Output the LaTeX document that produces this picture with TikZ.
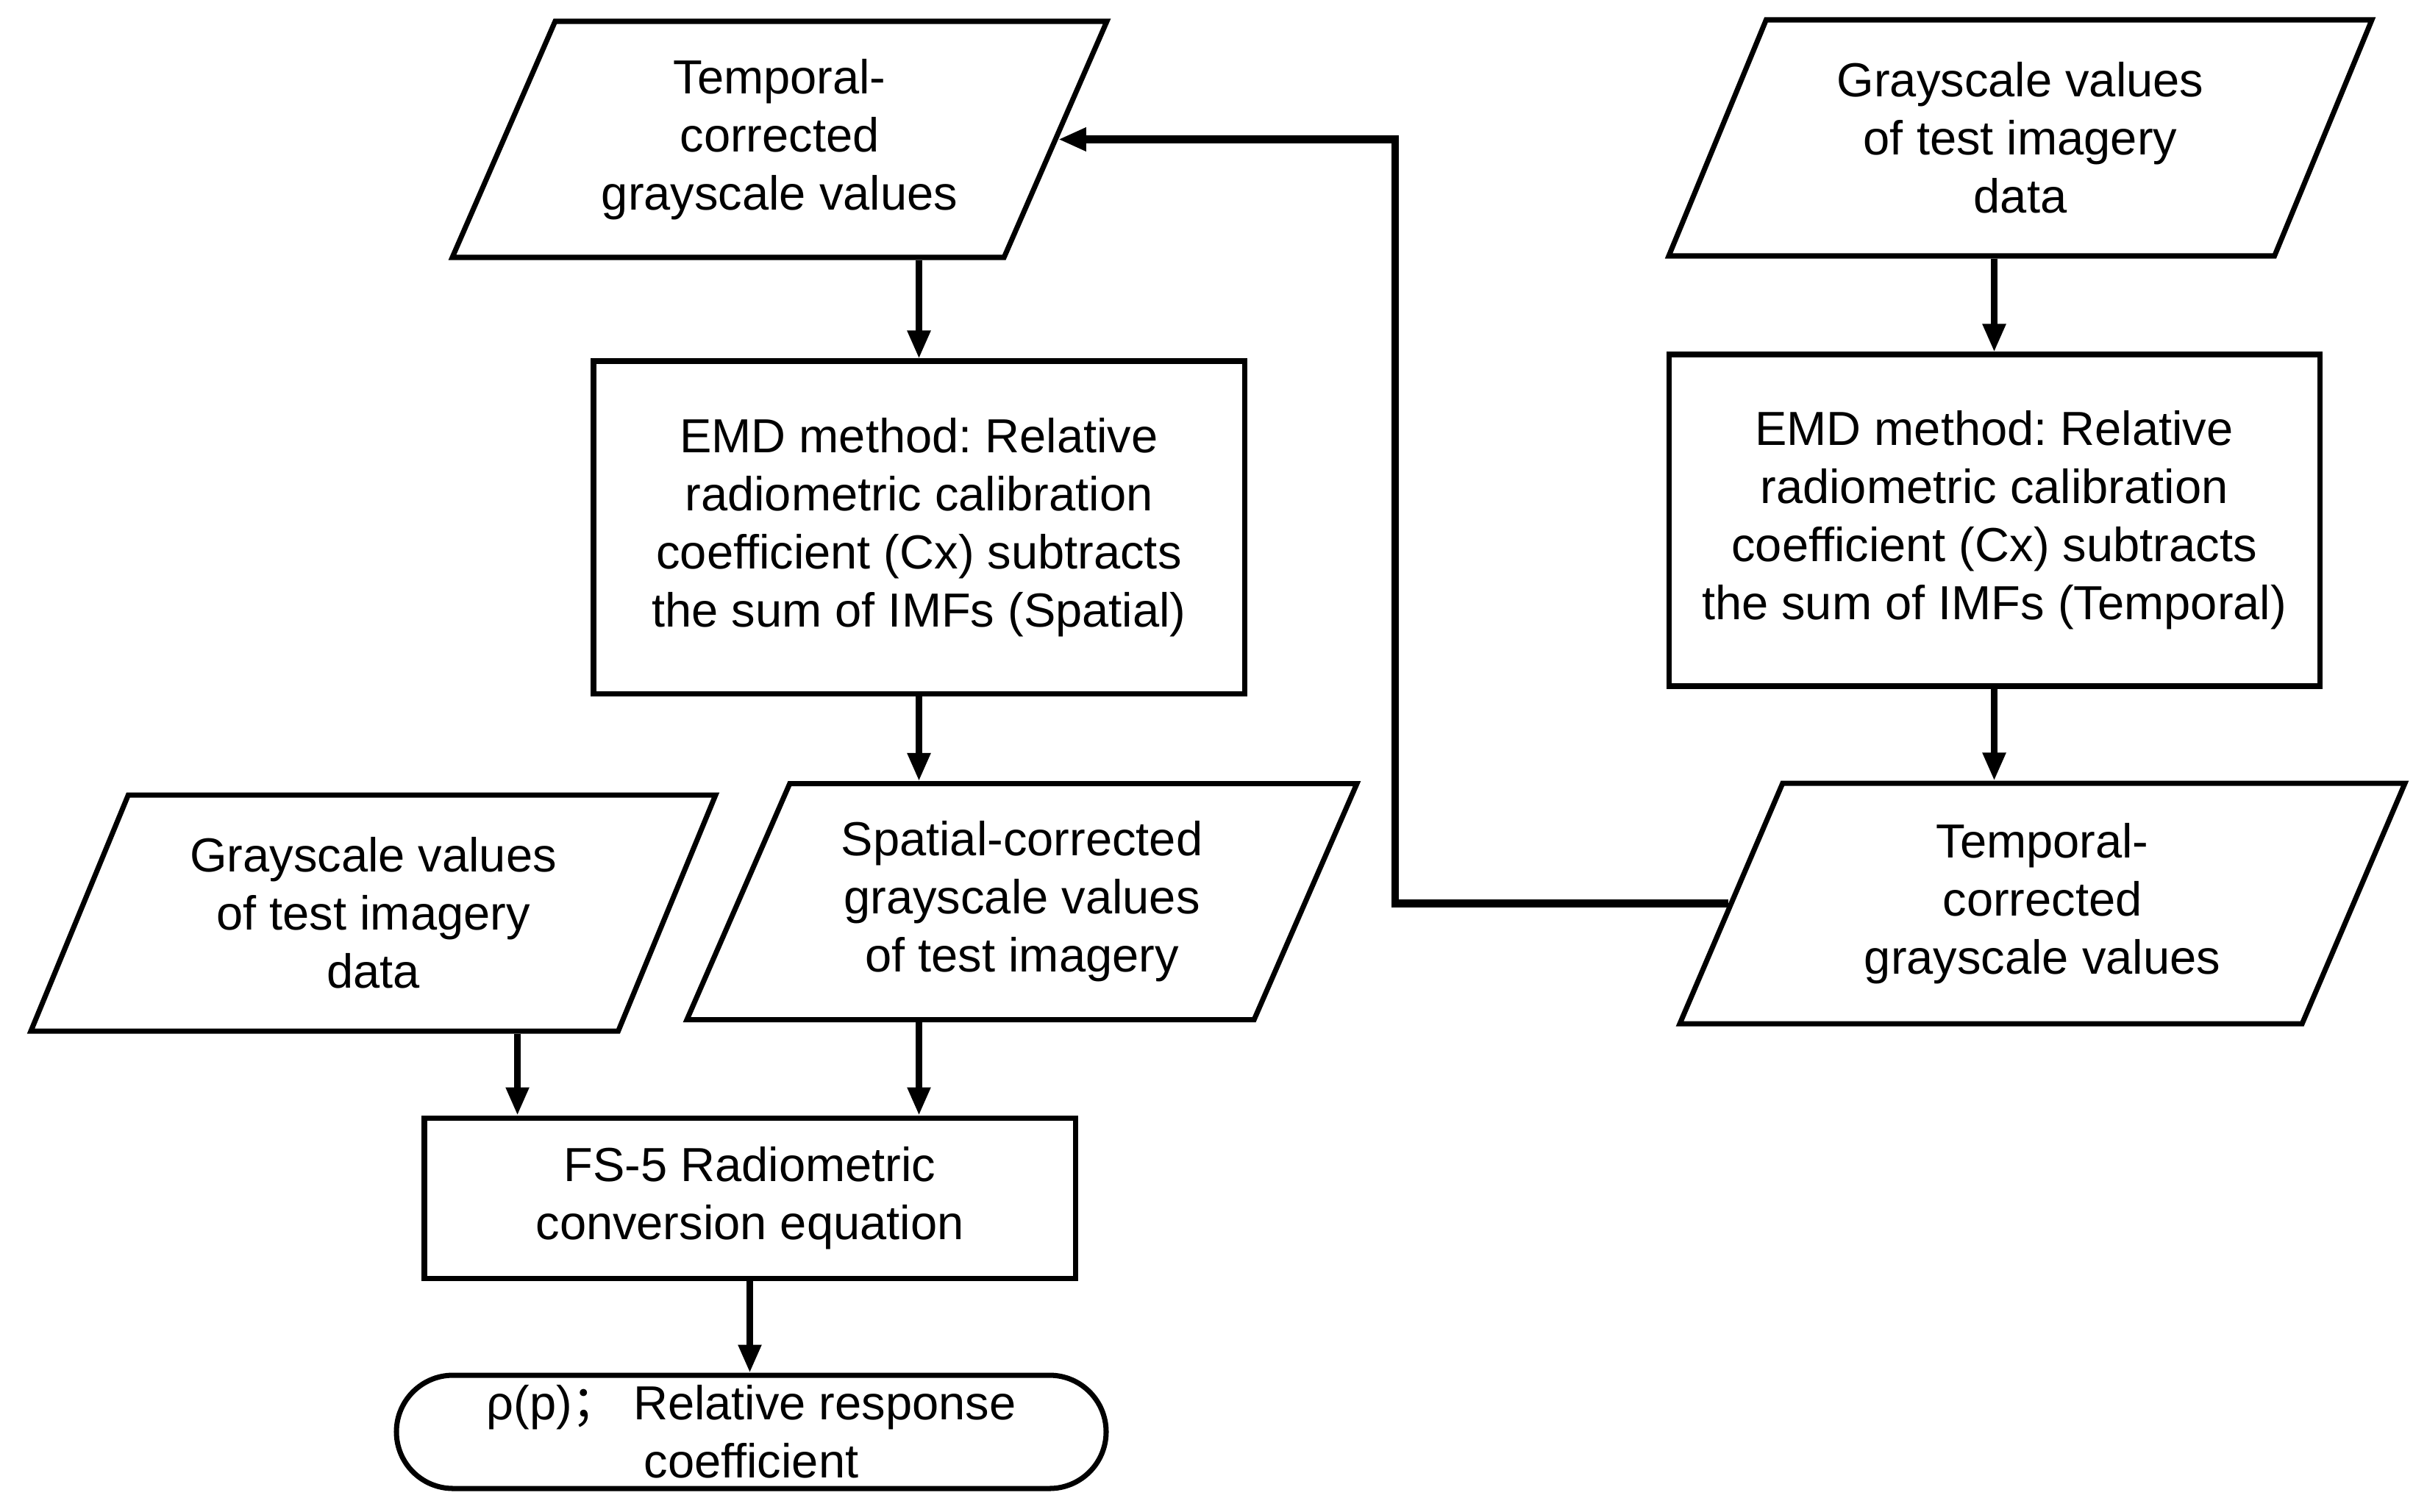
\documentclass[tikz,border=0pt]{standalone}
\usepackage{fontspec}
\setmainfont{Liberation Sans}
\newfontfamily\cjk{Noto Sans CJK SC}
\frenchspacing
\usetikzlibrary{arrows.meta, shapes.geometric, shapes.misc}

\tikzset{
    every node/.style={font=\fontsize{18.5}{22.5}\selectfont, align=center},
    io/.style={draw, line width=2pt, trapezium, trapezium left angle=60, trapezium right angle=120, trapezium stretches body, minimum height=3.21cm},
    proc/.style={draw, line width=2pt, rectangle, minimum width=8.85cm},
    term/.style={draw, line width=2pt, rounded rectangle, inner sep=0pt},
    arr/.style={-{Triangle[length=0.38cm,width=0.3cm]}, line width=2.4pt}
}

\begin{document}
\begin{tikzpicture}
        \useasboundingbox (0,0) rectangle (33,-20.55);
        \node[io, minimum width=8.9cm] (tcorrA) at (10.6,-1.895) {Temporal-\\corrected\\grayscale values};
        \node[io, minimum width=9.56cm] (grayB) at (27.47,-1.875) {Grayscale values\\of test imagery\\data};
        \node[proc, minimum height=4.52cm] (emdS) at (12.495,-7.17) {EMD method: Relative\\radiometric calibration\\coefficient (Cx) subtracts\\the sum of IMFs (Spatial)};
        \node[proc, minimum height=4.51cm] (emdT) at (27.115,-7.075) {EMD method: Relative\\radiometric calibration\\coefficient (Cx) subtracts\\the sum of IMFs (Temporal)};
        \node[io, minimum width=9.31cm] (grayA) at (5.075,-12.415) {Grayscale values\\of test imagery\\data};
        \node[io, minimum width=9.11cm] (scorr) at (13.895,-12.26) {Spatial-corrected\\grayscale values\\of test imagery};
        \node[io, minimum width=9.86cm, minimum height=3.27cm] (tcorrB) at (27.77,-12.285) {Temporal-\\corrected\\grayscale values};
        \node[proc, minimum height=2.18cm] (conv) at (10.195,-16.29) {FS-5 Radiometric\\conversion equation};
        \node[term, minimum width=9.65cm, minimum height=1.54cm] (coef) at (10.215,-19.47) {ρ(p){\cjk ；} Relative response\\coefficient};
        \coordinate (loop) at (18.97,0);
        \draw[arr] (emdS.north |- tcorrA.south) -- (emdS.north);
        \draw[arr] (emdS.south) -- (emdS.south |- scorr.north);
        \draw[arr] (emdS.south |- scorr.south) -- (emdS.south |- conv.north);
        \draw[arr] ([xshift=1.96cm]grayA.south) -- ([xshift=1.96cm]grayA.south |- conv.north);
        \draw[arr] (conv.south) -- (conv.south |- coef.north);
        \draw[arr] (emdT.north |- grayB.south) -- (emdT.north);
        \draw[arr] (emdT.south) -- (emdT.south |- tcorrB.north);
        \draw[arr, line width=3pt] (tcorrB.west) -| (loop |- tcorrA.east) -- (tcorrA.east);
    \end{tikzpicture}
\end{document}
